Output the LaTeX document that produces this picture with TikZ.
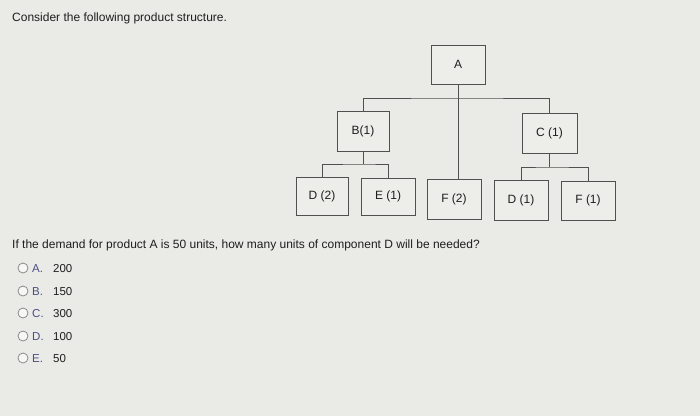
\documentclass[tikz,border=0pt]{standalone}
\usepackage{fontspec}
\setmainfont{Liberation Sans}
\definecolor{bg}{HTML}{EAEAE6}
\definecolor{boxfill}{HTML}{EDEDEA}
\definecolor{ln}{HTML}{505050}
\definecolor{txt}{HTML}{1E1E1E}
\definecolor{opt}{HTML}{4A4E86}
\definecolor{radio}{HTML}{8A8A8A}
\tikzset{
  part/.style={draw=ln, fill=boxfill, line width=0.9pt, inner sep=0pt,
    font=\fontsize{12}{14}\selectfont, text=txt},
  conn/.style={draw=ln, line width=0.9pt},
  qtext/.style={anchor=base west, inner sep=0pt, font=\fontsize{12}{14}\selectfont, text=txt},
  radiobtn/.style={circle, draw=radio, fill=white!60!bg, line width=0.8pt, minimum size=10pt, inner sep=0pt},
  optletter/.style={anchor=base west, inner sep=0pt, font=\fontsize{11.5}{14}\selectfont, text=opt},
  optval/.style={anchor=base west, inner sep=0pt, font=\fontsize{11.5}{14}\selectfont, text=txt}
}
\begin{document}
\begin{tikzpicture}[x=1pt,y=-1pt]
\fill[bg] (0,0) rectangle (700,416);
\useasboundingbox (0,0) rectangle (700,416);

\node[qtext] (title) at (12,21) {Consider the following product structure.};

\node[part, minimum width=54pt, minimum height=39pt] (A) at (458,64.5) {A};
\node[part, minimum width=52pt, minimum height=40pt] (B) at (363,131) {B(1)};
\node[part, minimum width=55pt, minimum height=40pt] (C) at (549.5,133) {C (1)};
\node[part, minimum width=52pt, minimum height=38pt] (D2) at (322,196) {D (2)};
\node[part, minimum width=54pt, minimum height=37pt] (E1) at (388,196.5) {E (1)};
\node[part, minimum width=54pt, minimum height=40pt] (F2) at (454,199) {F (2)};
\node[part, minimum width=54pt, minimum height=40pt] (D1) at (521,200) {D (1)};
\node[part, minimum width=54pt, minimum height=39pt] (F1) at (588,200.5) {F (1)};

\coordinate (barA) at (458,98);
\coordinate (barB) at (363,164);
\coordinate (barC) at (549.5,167);

\draw[conn] (A.south) -- (A.south |- F2.north);
\draw[conn] (B.north) |- (barA) -| (C.north);
\draw[conn] (B.south) -- (barB);
\draw[conn] (D2.north) |- (barB) -| (E1.north);
\draw[conn] (C.south) -- (barC);
\draw[conn] (D1.north) |- (barC) -| (F1.north);

\node[qtext] (question) at (12,248) {If the demand for product A is 50 units, how many units of component D will be needed?};

\node[radiobtn] (ra) at (23,268) {};
\node[optletter] (la) at (32,272) {A.};
\node[optval] (va) at (53,272) {200};
\node[radiobtn] (rb) at (23,291) {};
\node[optletter] (lb) at (32,295) {B.};
\node[optval] (vb) at (53,295) {150};
\node[radiobtn] (rc) at (23,313) {};
\node[optletter] (lc) at (32,317) {C.};
\node[optval] (vc) at (53,317) {300};
\node[radiobtn] (rd) at (23,336) {};
\node[optletter] (ld) at (32,340) {D.};
\node[optval] (vd) at (53,340) {100};
\node[radiobtn] (re) at (23,358) {};
\node[optletter] (le) at (32,362) {E.};
\node[optval] (ve) at (53,362) {50};
\end{tikzpicture}
\end{document}
